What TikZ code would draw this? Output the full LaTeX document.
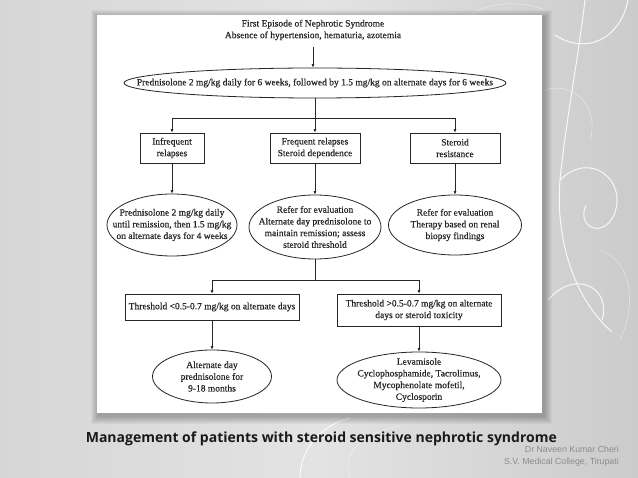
\documentclass[tikz,border=0pt]{standalone}
\usepackage{fontspec}
\setmainfont{Liberation Serif}
\newfontfamily\diagfont{Liberation Serif}[FakeBold=0.5]
\newfontfamily\capfont{Open Sans}
\newfontfamily\creditfont{Liberation Sans}
\usetikzlibrary{arrows.meta,positioning,shapes.geometric}

\definecolor{bgleft}{HTML}{D6D6D6}
\definecolor{bgmid}{HTML}{E3E3E3}
\definecolor{bgright}{HTML}{CBCBCB}
\definecolor{linec}{HTML}{262626}
\definecolor{captext}{HTML}{1A1A1A}

\begin{document}
\begin{tikzpicture}[x=1pt, y=-1pt, >={Latex[length=3.5pt,width=3pt]}]

		\tikzstyle{txt}=[align=center, inner sep=0pt, text=linec, font=\diagfont\fontsize{9.5}{11.7}\selectfont]
		\tikzstyle{oval}=[ellipse, draw=linec, line width=0.8pt, inner sep=0pt]
		\tikzstyle{box}=[rectangle, draw=linec, line width=0.8pt, txt]
		\tikzstyle{arr}=[->, draw=linec, line width=0.8pt]
		\tikzstyle{link}=[draw=linec, line width=0.8pt]
		\tikzstyle{swirl}=[white, line width=1pt, opacity=0.85]
		\tikzstyle{faint}=[white, line width=0.6pt, opacity=0.45]

		% Slide background
		\useasboundingbox (0,0) rectangle (638,478);
		\shade[left color=bgleft, right color=bgright, middle color=bgmid] (0,0) rectangle (638,478);

		% Swirls
		\draw[swirl] (585,0) .. controls (578,60) and (566,120) .. (560,180) .. controls (555,240) and (575,300) .. (612,332);
		\draw[swirl] (628,0) .. controls (620,40) and (585,55) .. (555,35);
		\draw[swirl] (560,180) .. controls (590,150) and (628,180) .. (614,215) .. controls (602,240) and (576,226) .. (586,205);
		\draw[swirl] (548,300) .. controls (575,268) and (612,288) .. (602,320);
		\draw[faint] (545,90) .. controls (575,80) and (600,110) .. (590,140);
		\draw[faint] (600,250) .. controls (630,260) and (638,300) .. (620,340);
		\draw[swirl] (300,478) .. controls (300,452) and (318,426) .. (350,418);
		\draw[faint] (350,478) .. controls (340,455) and (362,432) .. (400,426);
		\draw[faint] (470,15) .. controls (490,2) and (520,0) .. (545,10);

		% Panel with soft shadow
		\foreach \d in {1,...,8}
		\fill[black, opacity=0.035] (99-\d,18-\d) rectangle (544+\d,416+\d);
		\fill[white] (97,15) rectangle (542,413);

		% Presentation
		\node[txt, inner ysep=6.5pt] (top) at (313,30)
		{First Episode of Nephrotic Syndrome\\ Absence of hypertension, hematuria, azotemia};

		% Initial treatment
		\node[oval, minimum width=382pt, minimum height=30pt] (e0) at (315,83) {};
		\node[txt] at (e0) {Prednisolone 2 mg/kg daily for 6 weeks, followed by 1.5 mg/kg on alternate days for 6 weeks};

		% Course after treatment
		\node[box, minimum width=64pt, minimum height=30pt] (b1) at (172,148) {Infrequent\\ relapses};
		\node[box, minimum width=90pt, minimum height=30pt] (b2) at (315,148) {Frequent relapses\\ Steroid dependence};
		\node[box, minimum width=90pt, minimum height=30pt] (b3) at (455,148) {Steroid\\ resistance};

		% Management of each course
		\node[oval, minimum width=130pt, minimum height=62pt] (e1) at (172,225) {};
		\node[txt] at (e1) {Prednisolone 2 mg/kg daily\\ until remission, then 1.5 mg/kg\\ on alternate days for 4 weeks};
		\node[oval, minimum width=132pt, minimum height=64pt] (e2) at (315,227) {};
		\node[txt] at (e2) {Refer for evaluation\\ Alternate day prednisolone to\\ maintain remission; assess\\ steroid threshold};
		\node[oval, minimum width=133pt, minimum height=60pt] (e3) at (455,225) {};
		\node[txt] at (e3) {Refer for evaluation\\ Therapy based on renal\\ biopsy findings};

		% Steroid threshold
		\node[box, minimum width=174pt, minimum height=26pt] (b4) at (212,307) {Threshold <0.5-0.7 mg/kg on alternate days};
		\node[box, minimum width=164pt, minimum height=32pt] (b5) at (419,310) {Threshold >0.5-0.7 mg/kg on alternate\\ days or steroid toxicity};

		\node[oval, minimum width=119pt, minimum height=53pt] (e4) at (212,376.5) {};
		\node[txt] at (e4) {Alternate day\\ prednisolone for\\ 9-18 months};
		\node[oval, minimum width=164pt, minimum height=56pt] (e5) at (419,380) {};
		\node[txt] at (e5) {Levamisole\\ Cyclophosphamide, Tacrolimus,\\ Mycophenolate mofetil,\\ Cyclosporin};

		% Connectors
		\draw[arr] (top) -- (top |- e0.north);
		\coordinate[below=20pt of e0.south] (split1);
		\draw[link] (e0.south) -- (split1);
		\draw[arr] (split1) -| (b1);
		\draw[arr] (split1) -- (b2);
		\draw[arr] (split1) -| (b3);
		\draw[arr] (b1) -- (e1);
		\draw[arr] (b2) -- (e2);
		\draw[arr] (b3) -- (e3);
		\coordinate[below=21pt of e2.south] (split2);
		\draw[link] (e2.south) -- (split2);
		\draw[arr] (split2) -| (b4);
		\draw[arr] (split2) -| (b5);
		\draw[arr] (b4) -- (e4);
		\draw[arr] (b5) -- (e5);

		% Caption and credit
		\node[anchor=west, inner sep=0pt, text=captext, font=\capfont\bfseries\fontsize{14}{16}\selectfont] (caption) at (85.6,439)
		{Management of patients with steroid sensitive nephrotic syndrome};
		\node[anchor=east, align=right, inner sep=0pt, text=black!45, font=\creditfont\fontsize{8.8}{11.7}\selectfont] (credit) at (619,456)
		{Dr Naveen Kumar Cheri\\ S.V. Medical College, Tirupati};

\end{tikzpicture}
\end{document}
